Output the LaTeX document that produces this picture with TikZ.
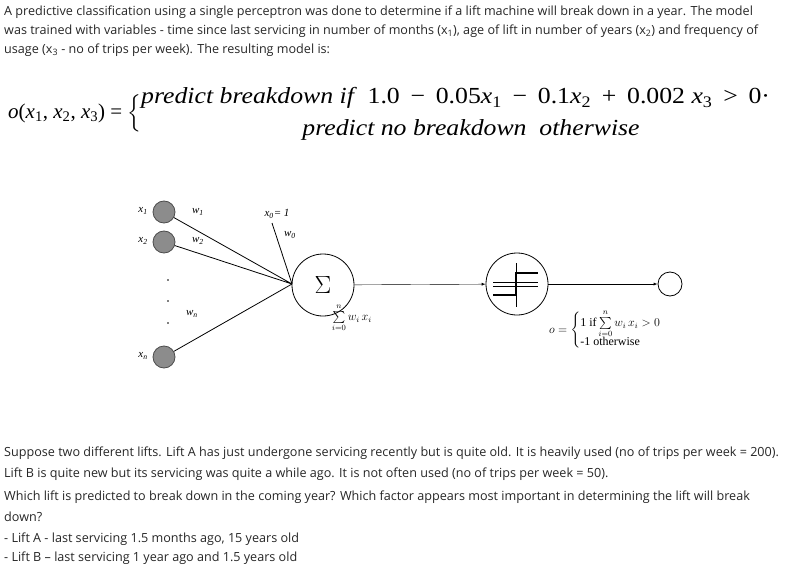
\documentclass[tikz,border=0pt]{standalone}
\usepackage{amsmath}
\usepackage{fontspec}
\setmainfont{Open Sans}
\newfontfamily\serf{Liberation Serif}
\begin{document}
\begin{tikzpicture}[x=1pt,y=-1pt,
  txt/.style={anchor=west,inner sep=0,font=\fontsize{12.6}{14}\selectfont,text=black!85},
  inp/.style={circle,draw=black!70,fill=black!45,minimum size=22pt,inner sep=0,thick},
  sml/.style={font=\fontsize{11}{12}\selectfont\serf\itshape,inner sep=1},
  big/.style={circle,draw,minimum size=62pt,inner sep=0,thick}]
\useasboundingbox (0,0) rectangle (792,583);
\node[txt] (t1) at (4,12) {A predictive classification using a single perceptron was done to determine if a lift machine will break down in a year. The model};
\node[txt] (t2) at (4,31) {was trained with variables - time since last servicing in number of months (x\textsubscript{1}), age of lift in number of years (x\textsubscript{2}) and frequency of};
\node[txt] (t3) at (4,50) {usage (x\textsubscript{3} - no of trips per week). The resulting model is:};
\node[anchor=west,inner sep=0,font=\fontsize{21}{24}\selectfont\serf] (eq) at (8,113)
 {\textit{o}(\textit{x}\textsubscript{1}, \textit{x}\textsubscript{2}, \textit{x}\textsubscript{3}) = $\left\{\rule{0pt}{20pt}\right.$};
\node[anchor=west,inner sep=0,font=\fontsize{23}{26}\selectfont\serf,xscale=1.12] (eq1) at (141,98)
 {\textit{predict breakdown if}\ \,1.0 \,−\, 0.05\textit{x}\textsubscript{1} \,−\, 0.1\textit{x}\textsubscript{2} \,+\, 0.002 \textit{x}\textsubscript{3} \,>\, 0·};
\node[inner sep=0,font=\fontsize{23}{26}\selectfont\serf\itshape,xscale=1.12] (eq2) at (471,130)
 {predict no breakdown\ \ otherwise};
% perceptron
\node[inp] (x1) at (164,212) {};
\node[inp] (x2) at (164,242) {};
\node[inp] (xn) at (164,357) {};
\node[sml] (lx1) at (143,211) {x\textsubscript{1}};
\node[sml] (lx2) at (143,241) {x\textsubscript{2}};
\node[sml] (lxn) at (143,356) {x\textsubscript{n}};
\foreach \y/\n in {280/d1,301/d2,323/d3} \node[circle,fill,inner sep=0.6] (\n) at (168,\y) {};
\coordinate (c) at (292,284);
\node[big,font=\Huge] (sig) at (323,285) {$\Sigma$};
\node[big] (step) at (517,284) {};
\node[circle,draw,minimum size=24pt,inner sep=0,thick] (out) at (670,284) {};
\draw[thick] (x1) -- (c) (x2) -- (c) (xn) -- (c);
\coordinate (w0s) at (272,223);
\draw[thick] (w0s) -- (c);
\node[sml] (x0) at (277,214) {x\textsubscript{0}= 1};
\node[sml] (w0) at (290,235) {w\textsubscript{0}};
\node[sml] (w1) at (198,212) {w\textsubscript{1}};
\node[sml] (w2) at (198,241) {w\textsubscript{2}};
\node[sml] (wn) at (192,314) {w\textsubscript{n}};
\draw[-latex] (sig) -- (step);
\draw[-latex] (step) -- (out);
\draw[very thick] (493,295) -- (516,295) -- (516,273) -- (538,273);
\draw (516,263) -- (516,307) (493,282) -- (538,282) (493,286) -- (538,286);
\node[font=\fontsize{12}{13}\selectfont] (sum) at (352,318) {$\sum\limits_{i=0}^{n} w_i\,x_i$};
\node[font=\fontsize{12}{13}\selectfont\serf,anchor=west,inner sep=0] (of) at (549,330)
 {$o=\left\{\begin{array}{@{}l}\text{1 if} \sum\limits_{i=0}^{n} w_i\,x_i>0\\[-1pt] \text{-1 otherwise}\end{array}\right.$};
\node[txt] (b1) at (4,453) {Suppose two different lifts. Lift A has just undergone servicing recently but is quite old. It is heavily used (no of trips per week = 200).};
\node[txt] (b2) at (4,474) {Lift B is quite new but its servicing was quite a while ago. It is not often used (no of trips per week = 50).};
\node[txt] (b3) at (4,497) {Which lift is predicted to break down in the coming year? Which factor appears most important in determining the lift will break};
\node[txt] (b4) at (4,517) {down?};
\node[txt] (b5) at (4,539) {- Lift A - last servicing 1.5 months ago, 15 years old};
\node[txt] (b6) at (4,558) {- Lift B – last servicing 1 year ago and 1.5 years old};
\end{tikzpicture}
\end{document}
